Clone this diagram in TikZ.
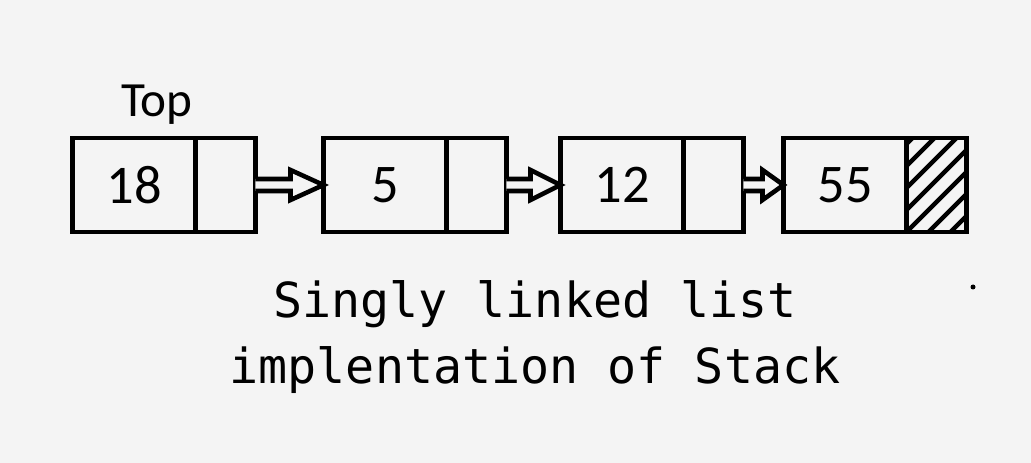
\documentclass[tikz,border=0pt]{standalone}
\usepackage{fontspec}
\setmainfont{Carlito}
\newfontfamily\captionfont{DejaVu Sans Mono}
\usetikzlibrary{positioning,calc}
\definecolor{bggray}{RGB}{244,244,244}
\tikzset{
  datapart/.style={draw, line width=2.8pt, minimum width=2.46cm, minimum height=1.88cm, outer sep=0pt, inner sep=0pt, font=\fontsize{31}{36}\selectfont},
  ptrpart/.style={draw, line width=2.8pt, minimum width=1.2cm, minimum height=1.88cm, outer sep=0pt, inner sep=0pt},
  hollow/.style={draw, line width=2.6pt, line join=miter, fill=bggray}
}
\newcommand{\blockarrow}[3]{
  \path[hollow] ($(#1)+(0,6)$) -- ($(#2)+(-#3,6)$) -- ($(#2)+(-#3,15)$) -- (#2)
    -- ($(#2)+(-#3,-15)$) -- ($(#2)+(-#3,-6)$) -- ($(#1)+(0,-6)$);
}
\begin{document}
\begin{tikzpicture}[x=0.02cm, y=0.02cm]
\fill [bggray] (0,0) rectangle (1031,463);
\useasboundingbox (0,0) rectangle (1031,463);
\node [datapart] (d1) at (134,278) {18};
\node [ptrpart, right=0pt of d1] (p1) {};
\node [datapart] (d2) at (385,278) {5};
\node [ptrpart, right=0pt of d2] (p2) {};
\node [datapart] (d3) at (622,278) {12};
\node [ptrpart, right=0pt of d3] (p3) {};
\node [datapart] (d4) at (845,278) {55};
\node [ptrpart, right=0pt of d4] (p4) {};
\begin{scope}
\clip (p4.south west) rectangle (p4.north east);
\foreach \s in {-110,-88,...,60}
  \draw [line width=2.6pt] ($(p4.south west)+(\s,0)$) -- ++(100,100);
\end{scope}
\draw [line width=2.8pt] (p4.south west) rectangle (p4.north east);
\blockarrow{p1.east}{d2.west}{33}
\blockarrow{p2.east}{d3.west}{30}
\blockarrow{p3.east}{d4.west}{21}
\node [font=\fontsize{28}{34}\selectfont, anchor=base] (top) at (157,346) {Top};
\node [font=\captionfont\fontsize{27.5}{37.5}\selectfont, align=center] (caption) at (535,126)
  {Singly linked list\\implentation of Stack};
\fill (973,176) circle (2.5);
\end{tikzpicture}
\end{document}
